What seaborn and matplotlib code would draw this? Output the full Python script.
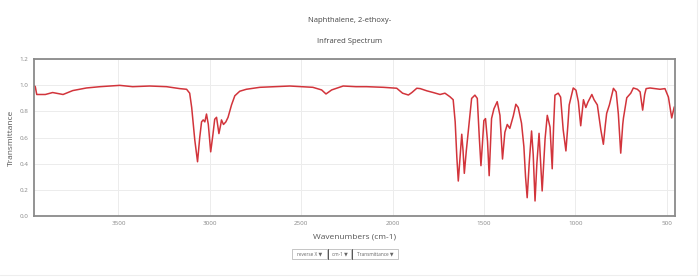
import matplotlib
matplotlib.use("Agg")
import matplotlib.pyplot as plt
import seaborn as sns
import pandas as pd
from matplotlib.lines import Line2D
from matplotlib.patches import Rectangle

wavenumbers = [3962, 3955, 3947, 3900, 3860, 3803, 3750, 3675, 3600, 3493, 3422, 3329, 3237, 3164,
               3127, 3110, 3099, 3082, 3067, 3055, 3045, 3036, 3027, 3018, 3008, 2995, 2983, 2973,
               2963, 2950, 2940, 2936, 2925, 2912, 2900, 2881, 2863, 2836, 2800, 2726, 2650, 2562,
               2500, 2436, 2388, 2364, 2333, 2270, 2200, 2142, 2050, 1977, 1945, 1913, 1894, 1867,
               1848, 1812, 1777, 1740, 1713, 1686, 1668, 1657, 1648, 1640, 1630, 1621, 1614, 1607,
               1596, 1585, 1567, 1549, 1536, 1525, 1516, 1508, 1500, 1491, 1480, 1471, 1464, 1458,
               1445, 1427, 1412, 1398, 1385, 1372, 1358, 1339, 1325, 1312, 1294, 1281, 1272, 1263,
               1252, 1239, 1230, 1220, 1210, 1198, 1189, 1181, 1165, 1153, 1138, 1126, 1118, 1111,
               1093, 1080, 1066, 1051, 1040, 1033, 1011, 996, 983, 970, 955, 942, 931, 909, 897,
               879, 860, 846, 835, 828, 813, 791, 776, 764, 751, 740, 736, 718, 696, 682, 660, 645,
               631, 620, 612, 591, 563, 536, 509, 490, 472, 458]
transmittance = [1.00, 0.99, 0.93, 0.93, 0.945, 0.93, 0.96, 0.98, 0.99, 1.00, 0.99, 0.995, 0.99, 0.975,
                 0.97, 0.94, 0.83, 0.58, 0.414, 0.60, 0.72, 0.735, 0.72, 0.78, 0.70, 0.49, 0.62, 0.74,
                 0.755, 0.63, 0.70, 0.735, 0.70, 0.72, 0.755, 0.85, 0.92, 0.955, 0.97, 0.985, 0.99, 0.995,
                 0.99, 0.985, 0.965, 0.934, 0.965, 0.995, 0.99, 0.99, 0.985, 0.978, 0.94, 0.926, 0.945, 0.978,
                 0.975, 0.958, 0.945, 0.93, 0.94, 0.913, 0.89, 0.72, 0.45, 0.266, 0.45, 0.625, 0.50, 0.325,
                 0.50, 0.65, 0.90, 0.925, 0.90, 0.60, 0.384, 0.55, 0.73, 0.745, 0.57, 0.307, 0.55, 0.745,
                 0.82, 0.875, 0.77, 0.435, 0.64, 0.70, 0.67, 0.765, 0.855, 0.83, 0.71, 0.53, 0.30, 0.138,
                 0.40, 0.65, 0.47, 0.113, 0.40, 0.632, 0.40, 0.19, 0.59, 0.77, 0.68, 0.36, 0.70, 0.925,
                 0.94, 0.91, 0.66, 0.497, 0.70, 0.85, 0.98, 0.963, 0.875, 0.69, 0.89, 0.83, 0.87, 0.93, 0.89,
                 0.85, 0.66, 0.548, 0.70, 0.785, 0.85, 0.977, 0.95, 0.78, 0.48, 0.70, 0.75, 0.905, 0.94, 0.98, 0.97, 0.95,
                 0.81, 0.93, 0.975, 0.98, 0.975, 0.97, 0.975, 0.91, 0.75, 0.835]

x_ticks = [3500, 3000, 2500, 2000, 1500, 1000, 500]
y_ticks = [0.0, 0.2, 0.4, 0.6, 0.8, 1.0, 1.2]
title_main = "Naphthalene, 2-ethoxy-"
title_sub = "Infrared Spectrum"
x_label = "Wavenumbers (cm-1)"
y_label = "Transmittance"
menu_items = ["reverse X \u25BC", "cm-1 \u25BC", "Transmittance \u25BC"]

sns.set_style("white")
plt.rcParams["font.family"] = ["Open Sans", "DejaVu Sans"]

df = pd.DataFrame({"wn": wavenumbers, "T": transmittance})

W, H = 700, 277
fig = plt.figure(figsize=(7.0, 2.77), dpi=100)
ax = fig.add_axes([34 / W, 1 - 215.7 / H, (675 - 34) / W, (215.7 - 59.3) / H])

sns.lineplot(data=df, x="wn", y="T", sort=False, ax=ax, color="#d2343b", linewidth=1.1)

ax.set_xlim(3962, 454)
ax.set_ylim(0, 1.2)
ax.set_xticks(x_ticks)
ax.set_xticklabels([str(v) for v in x_ticks])
ax.set_yticks(y_ticks)
ax.set_yticklabels([f"{v:.1f}" for v in y_ticks])
ax.grid(True, color="#ececec", linewidth=0.7)
ax.tick_params(axis="both", length=0, labelsize=4.5, colors="#888888", pad=4)
for s in ax.spines.values():
    s.set_color("#8a8a8a")
    s.set_linewidth(1.3)
ax.set_xlabel(x_label, fontsize=6, color="#555555", labelpad=5)
ax.set_ylabel(y_label, fontsize=6, color="#555555", labelpad=3)

fig.text(0.5, 1 - 20 / H, title_main, ha="center", va="center", fontsize=5.5, color="#444444")
fig.text(0.5, 1 - 42 / H, title_sub, ha="center", va="center", fontsize=5.5, color="#444444")

# dropdown controls
box_edges = [(292, 327), (328, 351), (352, 398)]
y0, y1 = 249, 259
for (xa, xb), t in zip(box_edges, menu_items):
    fig.add_artist(Rectangle((xa / W, 1 - y1 / H), (xb - xa) / W, (y1 - y0) / H,
                             transform=fig.transFigure, fc="white", ec="#bbbbbb", lw=0.6))
    fig.text((xa + xb) / 2 / W, 1 - (y0 + y1) / 2 / H, t, ha="center", va="center",
             fontsize=3.4, color="#666666")
for xd in (327.5, 351.5):
    fig.add_artist(Line2D([xd / W, xd / W], [1 - y1 / H, 1 - y0 / H], color="#555555", lw=0.7))

fig.add_artist(Line2D([697 / W, 697 / W], [2 / H, 1], color="#eeeeee", lw=0.8))
fig.add_artist(Line2D([0, 697 / W], [2 / H, 2 / H], color="#eeeeee", lw=0.8))

fig.savefig("out.png", dpi=100, facecolor="white")
